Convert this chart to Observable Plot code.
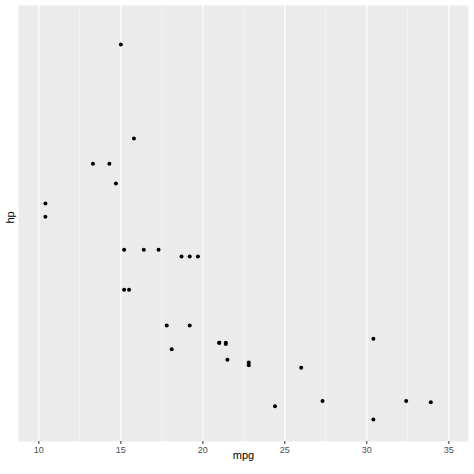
<!DOCTYPE html>
<html>
<head>
<meta charset="utf-8">
<script src="https://cdn.jsdelivr.net/npm/d3@7"></script>
<script src="https://cdn.jsdelivr.net/npm/@observablehq/plot@0.6"></script>
<style>
  html, body { margin: 0; padding: 0; background: #ffffff; }
  #chart { width: 474px; height: 474px; }
</style>
</head>
<body>
<div id="chart"></div>
<script>
const mpg = [21.0, 21.0, 22.8, 21.4, 18.7, 18.1, 14.3, 24.4, 22.8, 19.2, 17.8, 16.4, 17.3, 15.2, 10.4, 10.4,
             14.7, 32.4, 30.4, 33.9, 21.5, 15.5, 15.2, 13.3, 19.2, 27.3, 26.0, 30.4, 15.8, 19.7, 15.0, 21.4];
const hp = [110, 110, 93, 110, 175, 105, 245, 62, 95, 123, 123, 180, 180, 180, 205, 215,
            230, 66, 52, 65, 97, 150, 150, 245, 175, 66, 91, 113, 264, 175, 335, 109];
const xTicks = [10, 15, 20, 25, 30, 35];
const xMinor = [12.5, 17.5, 22.5, 27.5, 32.5];

const data = mpg.map((m, i) => ({mpg: m, hp: hp[i]}));

const chart = Plot.plot({
  width: 474,
  height: 474,
  marginLeft: 18,
  marginRight: 6,
  marginTop: 5,
  marginBottom: 33,
  style: {fontFamily: "'Liberation Sans', Arial, sans-serif", background: "#ffffff"},
  x: {domain: [8.76, 36.2]},
  y: {domain: [35.4, 364.4]},
  marks: [
    Plot.frame({fill: "#EBEBEB", stroke: null}),
    Plot.ruleX(xMinor, {stroke: "#ffffff", strokeWidth: 0.6, strokeOpacity: 0.9}),
    Plot.ruleX(xTicks, {stroke: "#ffffff", strokeWidth: 1.2}),
    Plot.axisX(xTicks, {tickSize: 3, tickPadding: 2, stroke: "#333333", fill: "#4D4D4D", fontSize: 9, label: null}),
    Plot.text(["mpg"], {frameAnchor: "bottom", dy: 17, fontSize: 11, fill: "#000000", lineAnchor: "bottom"}),
    Plot.axisY({ticks: [], label: null}),
    Plot.text(["hp"], {frameAnchor: "left", dx: -8, rotate: -90, fontSize: 11, fill: "#000000"}),
    Plot.dot(data, {x: "mpg", y: "hp", r: 2, fill: "#000000", stroke: null})
  ]
});
document.getElementById("chart").appendChild(chart);
</script>
</body>
</html>
